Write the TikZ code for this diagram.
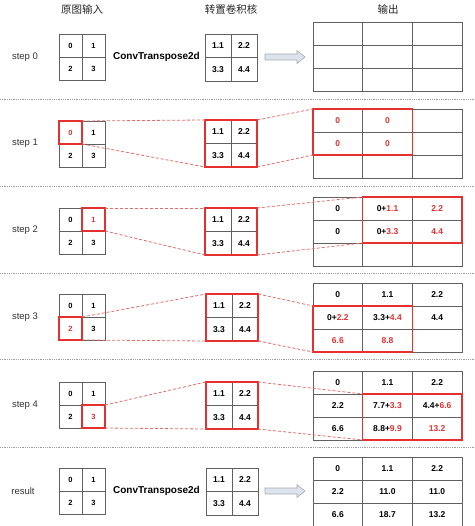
\documentclass[tikz,border=0pt]{standalone}
\usepackage{fontspec}
\setmainfont{Liberation Sans}
\newfontfamily\cjk{Noto Sans CJK SC}
\definecolor{myred}{HTML}{E53030}
\definecolor{myredlight}{HTML}{E86A6A}
\definecolor{gridgray}{HTML}{606060}
\definecolor{arrowfill}{HTML}{DDE3EC}
\definecolor{arrowline}{HTML}{A4ABB8}
\newcommand\RR[1]{\textcolor{myred}{#1}}
% input grid: name, x, y, four texts
\newcommand\InGrid[7]{%
  \node[incell] (#1-1-1) at ({#2+11.5},{#3+11.5}) {#4};
  \node[incell] (#1-1-2) at ({#2+34.5},{#3+11.5}) {#5};
  \node[incell] (#1-2-1) at ({#2+11.5},{#3+34.5}) {#6};
  \node[incell] (#1-2-2) at ({#2+34.5},{#3+34.5}) {#7};}
% kernel grid: name, x, y
\newcommand\KGrid[3]{%
  \node[kcell] (#1-1-1) at ({#2+13},{#3+11.75}) {1.1};
  \node[kcell] (#1-1-2) at ({#2+39},{#3+11.75}) {2.2};
  \node[kcell] (#1-2-1) at ({#2+13},{#3+35.25}) {3.3};
  \node[kcell] (#1-2-2) at ({#2+39},{#3+35.25}) {4.4};}
% output row: name, row, centre y, three texts
\newcommand\ORow[6]{%
  \node[ocell] (#1-#2-1) at (337.83,#3) {#4};
  \node[ocell] (#1-#2-2) at (387.5,#3) {#5};
  \node[ocell] (#1-#2-3) at (437.17,#3) {#6};}
\begin{document}
\begin{tikzpicture}[x=1pt,y=-1pt,
 cellstyle/.style={draw=gridgray, line width=0.8pt, inner sep=0pt, outer sep=0pt, anchor=center},
 incell/.style={cellstyle, minimum width=23pt, minimum height=23pt, font=\fontsize{7.5}{8}\selectfont\bfseries},
 kcell/.style={cellstyle, minimum width=26pt, minimum height=23.5pt, font=\fontsize{8.5}{9}\selectfont\bfseries},
 ocell/.style={cellstyle, minimum width=49.67pt, minimum height=23pt, font=\fontsize{8.5}{9}\selectfont\bfseries},
 redbox/.style={draw=myred, line width=1.6pt},
 dline/.style={draw=myredlight, line width=0.8pt, dash pattern=on 3pt off 2pt},
 sepline/.style={draw=gray!75, line width=0.6pt, dash pattern=on 0.8pt off 1pt},
 steplbl/.style={font=\fontsize{9.5}{11}\selectfont, text=black!80},
 hdr/.style={font=\cjk\fontsize{10.5}{12}\selectfont, text=black!85},
 ctlbl/.style={font=\fontsize{10}{12}\selectfont\bfseries},
 blockarrow/.style={draw=arrowline, fill=arrowfill, line width=0.6pt}
]
\useasboundingbox (0,0) rectangle (474,526);

% headers
\node[hdr] (h1) at (82,9) {原图输入};
\node[hdr] (h2) at (231,9) {转置卷积核};
\node[hdr] (h3) at (388,9) {输出};

% separators
\foreach \yy in {99,186,273,359,447} \draw[sepline] (0,\yy) -- (474,\yy);

% ---------- step 0 ----------
\node[steplbl] (l0) at (25,57) {step 0};
\InGrid{in0}{59}{34}{0}{1}{2}{3}
\node[ctlbl] (ct0) at (156.5,57) {ConvTranspose2d};
\KGrid{k0}{205}{34}
\draw[blockarrow] (265,54) -- (297,54) -- (297,50.5) -- (305,57) -- (297,63.5) -- (297,60) -- (265,60) -- cycle;
\ORow{out0}{1}{33.5}{}{}{}
\ORow{out0}{2}{56.5}{}{}{}
\ORow{out0}{3}{79.5}{}{}{}

% ---------- step 1 ----------
\node[steplbl] (l1) at (25,143) {step 1};
\InGrid{in1}{59}{121}{\RR{0}}{1}{2}{3}
\KGrid{k1}{205}{120}
\ORow{out1}{1}{120.5}{\RR{0}}{\RR{0}}{}
\ORow{out1}{2}{143.5}{\RR{0}}{\RR{0}}{}
\ORow{out1}{3}{166.5}{}{}{}
\draw[redbox] (in1-1-1.north west) rectangle (in1-1-1.south east);
\draw[redbox] (k1-1-1.north west) rectangle (k1-2-2.south east);
\draw[redbox] (out1-1-1.north west) rectangle (out1-2-2.south east);
\draw[dline] (in1-1-1.north east) -- (k1-1-1.north west);
\draw[dline] (in1-1-1.south east) -- (k1-2-1.south west);
\draw[dline] (k1-1-2.north east) -- (out1-1-1.north west);
\draw[dline] (k1-2-2.south east) -- (out1-2-1.south west);

% ---------- step 2 ----------
\node[steplbl] (l2) at (25,230) {step 2};
\InGrid{in2}{59}{208}{0}{\RR{1}}{2}{3}
\KGrid{k2}{205}{208}
\ORow{out2}{1}{208.5}{0}{0+\RR{1.1}}{\RR{2.2}}
\ORow{out2}{2}{231.5}{0}{0+\RR{3.3}}{\RR{4.4}}
\ORow{out2}{3}{254.5}{}{}{}
\draw[redbox] (in2-1-2.north west) rectangle (in2-1-2.south east);
\draw[redbox] (k2-1-1.north west) rectangle (k2-2-2.south east);
\draw[redbox] (out2-1-2.north west) rectangle (out2-2-3.south east);
\draw[dline] (in2-1-2.north east) -- (k2-1-1.north west);
\draw[dline] (in2-1-2.south east) -- (k2-2-1.south west);
\draw[dline] (k2-1-2.north east) -- (out2-1-2.north west);
\draw[dline] (k2-2-2.south east) -- (out2-2-2.south west);

% ---------- step 3 ----------
\node[steplbl] (l3) at (25,317) {step 3};
\InGrid{in3}{59}{294}{0}{1}{\RR{2}}{3}
\KGrid{k3}{206}{294}
\ORow{out3}{1}{294.5}{0}{1.1}{2.2}
\ORow{out3}{2}{317.5}{0+\RR{2.2}}{3.3+\RR{4.4}}{4.4}
\ORow{out3}{3}{340.5}{\RR{6.6}}{\RR{8.8}}{}
\draw[redbox] (in3-2-1.north west) rectangle (in3-2-1.south east);
\draw[redbox] (k3-1-1.north west) rectangle (k3-2-2.south east);
\draw[redbox] (out3-2-1.north west) rectangle (out3-3-2.south east);
\draw[dline] (in3-2-1.north east) -- (k3-1-1.north west);
\draw[dline] (in3-2-1.south east) -- (k3-2-1.south west);
\draw[dline] (k3-1-2.north east) -- (out3-2-1.north west);
\draw[dline] (k3-2-2.south east) -- (out3-3-1.south west);

% ---------- step 4 ----------
\node[steplbl] (l4) at (25,405) {step 4};
\InGrid{in4}{59}{382}{0}{1}{2}{\RR{3}}
\KGrid{k4}{206}{382}
\ORow{out4}{1}{382.5}{0}{1.1}{2.2}
\ORow{out4}{2}{405.5}{2.2}{7.7+\RR{3.3}}{4.4+\RR{6.6}}
\ORow{out4}{3}{428.5}{6.6}{8.8+\RR{9.9}}{\RR{13.2}}
\draw[redbox] (in4-2-2.north west) rectangle (in4-2-2.south east);
\draw[redbox] (k4-1-1.north west) rectangle (k4-2-2.south east);
\draw[redbox] (out4-2-2.north west) rectangle (out4-3-3.south east);
\draw[dline] (in4-2-2.north east) -- (k4-1-1.north west);
\draw[dline] (in4-2-2.south east) -- (k4-2-1.south west);
\draw[dline] (k4-1-2.north east) -- (out4-2-2.north west);
\draw[dline] (k4-2-2.south east) -- (out4-3-2.south west);

% ---------- result ----------
\node[steplbl] (l5) at (23,491) {result};
\InGrid{in5}{59}{468}{0}{1}{2}{3}
\node[ctlbl] (ct5) at (156.5,491) {ConvTranspose2d};
\KGrid{k5}{206}{468}
\draw[blockarrow] (265,488) -- (297,488) -- (297,484.5) -- (305,491) -- (297,497.5) -- (297,494) -- (265,494) -- cycle;
\ORow{out5}{1}{468.5}{0}{1.1}{2.2}
\ORow{out5}{2}{491.5}{2.2}{11.0}{11.0}
\ORow{out5}{3}{514.5}{6.6}{18.7}{13.2}
\end{tikzpicture}
\end{document}
